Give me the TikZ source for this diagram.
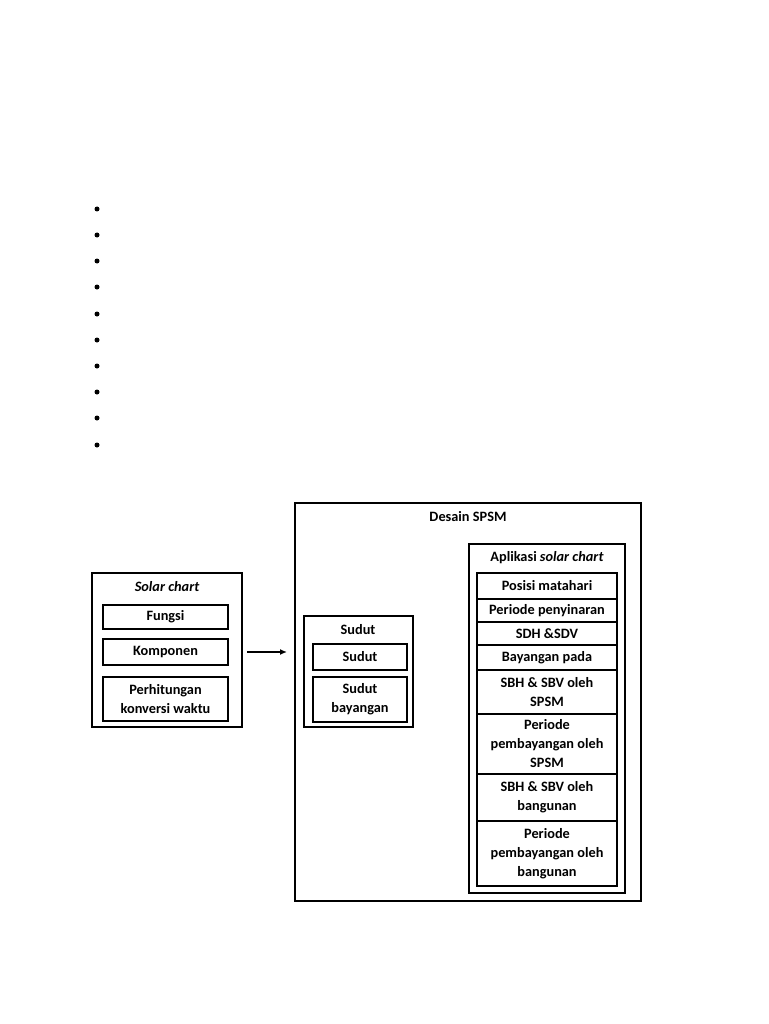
\documentclass[tikz,border=0pt]{standalone}
\usepackage{fontspec}
\setmainfont{Carlito}
\usetikzlibrary{arrows.meta}
\tikzset{
  box/.style={draw, line width=1.6pt, inner sep=0pt, align=center, font=\fontsize{14.3}{19}\selectfont\bfseries},
  lbl/.style={inner sep=0pt, align=center, font=\fontsize{14.3}{19}\selectfont\bfseries},
  dot/.style={circle, fill=black, inner sep=0pt, minimum size=5pt}
}
% \bx{name}{x1}{y1}{x2}{y2}{text}
\newcommand{\bx}[6]{\node[box, minimum width={#4-#2}, minimum height={#5-#3}] (#1) at ({(#2+#4)/2},{(#3+#5)/2}) {#6};}
\begin{document}
\begin{tikzpicture}[x=1pt,y=-1pt]
\useasboundingbox (0,0) rectangle (768,1024);
% bullets
\foreach \i/\yy in {1/209,2/235,3/261,4/287,5/314,6/340,7/366,8/392,9/418,10/445}
  \node[dot] (b\i) at (97,\yy) {};
% Solar chart group
\bx{sc}{92}{573}{242}{727}{}
\node[lbl] (sct) at (167,587) {\itshape Solar chart};
\bx{fungsi}{103}{605}{228}{629}{Fungsi}
\bx{komp}{103}{639}{228}{665}{Komponen}
\bx{perh}{103}{677}{228}{721}{Perhitungan\\konversi waktu}
% Desain SPSM
\bx{desain}{295}{503}{641}{901}{}
\node[lbl] (dt) at (468,517) {Desain SPSM};
% Sudut group
\bx{sudutg}{304}{616}{413}{727}{}
\node[lbl] (sudt) at (358,630) {Sudut};
\bx{sudut}{313}{644}{407}{670}{Sudut}
\bx{sudutb}{313}{677}{407}{722}{Sudut\\bayangan}
% Aplikasi group
\bx{apl}{469}{544}{625}{893}{}
\node[lbl] (aplt) at (547,558) {Aplikasi \textit{solar chart}};
\bx{r1}{477}{573}{617}{599}{Posisi matahari}
\bx{r2}{477}{599}{617}{622}{Periode penyinaran}
\bx{r3}{477}{622}{617}{645}{SDH \&SDV}
\bx{r4}{477}{645}{617}{670}{Bayangan pada}
\bx{r5}{477}{670}{617}{714}{SBH \& SBV oleh\\SPSM}
\bx{r6}{477}{714}{617}{774}{Periode\\pembayangan oleh\\SPSM}
\bx{r7}{477}{774}{617}{821}{SBH \& SBV oleh\\bangunan}
\bx{r8}{477}{821}{617}{886}{Periode\\pembayangan oleh\\bangunan}
% arrow
\coordinate (a1) at (247,652);
\coordinate (a2) at (287,652);
\draw[line width=1.5pt, -{Latex[length=7pt,width=6pt]}] (a1) -- (a2);
\end{tikzpicture}
\end{document}
